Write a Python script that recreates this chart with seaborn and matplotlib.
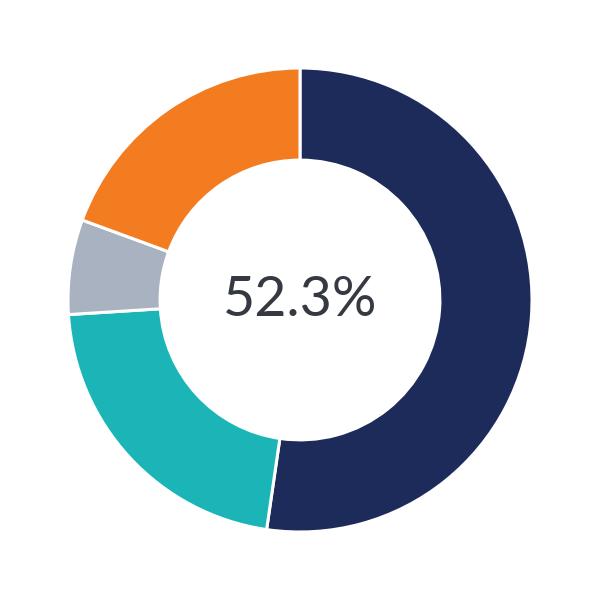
import matplotlib
matplotlib.use('Agg')
import matplotlib.pyplot as plt
import seaborn as sns

# Datos del anillo (en sentido horario desde arriba)
etiquetas = ['Navy', 'Teal', 'Gray', 'Orange']
valores = [52.3, 21.7, 6.6, 19.4]
colores = ['#1c2b5a', '#1bb5b8', '#a9b2c0', '#f47c20']
texto_centro = '52.3%'

sns.set_style('white')
plt.rcParams['font.family'] = ['Lato', 'DejaVu Sans']

fig = plt.figure(figsize=(6, 6), dpi=100)
ax = fig.add_axes([0, 0, 1, 1])

ax.pie(valores, colors=sns.color_palette(colores), startangle=90, counterclock=False,
       radius=1, wedgeprops=dict(width=0.397, edgecolor='white', linewidth=2.2))

ax.text(0, 0, texto_centro, ha='center', va='center', fontsize=40, color='#353a42')

lim = 300 / 232
ax.set_xlim(-lim, lim)
ax.set_ylim(-lim, lim)
ax.set_aspect('equal')
ax.axis('off')

plt.savefig('out.png', dpi=100, facecolor='white')
